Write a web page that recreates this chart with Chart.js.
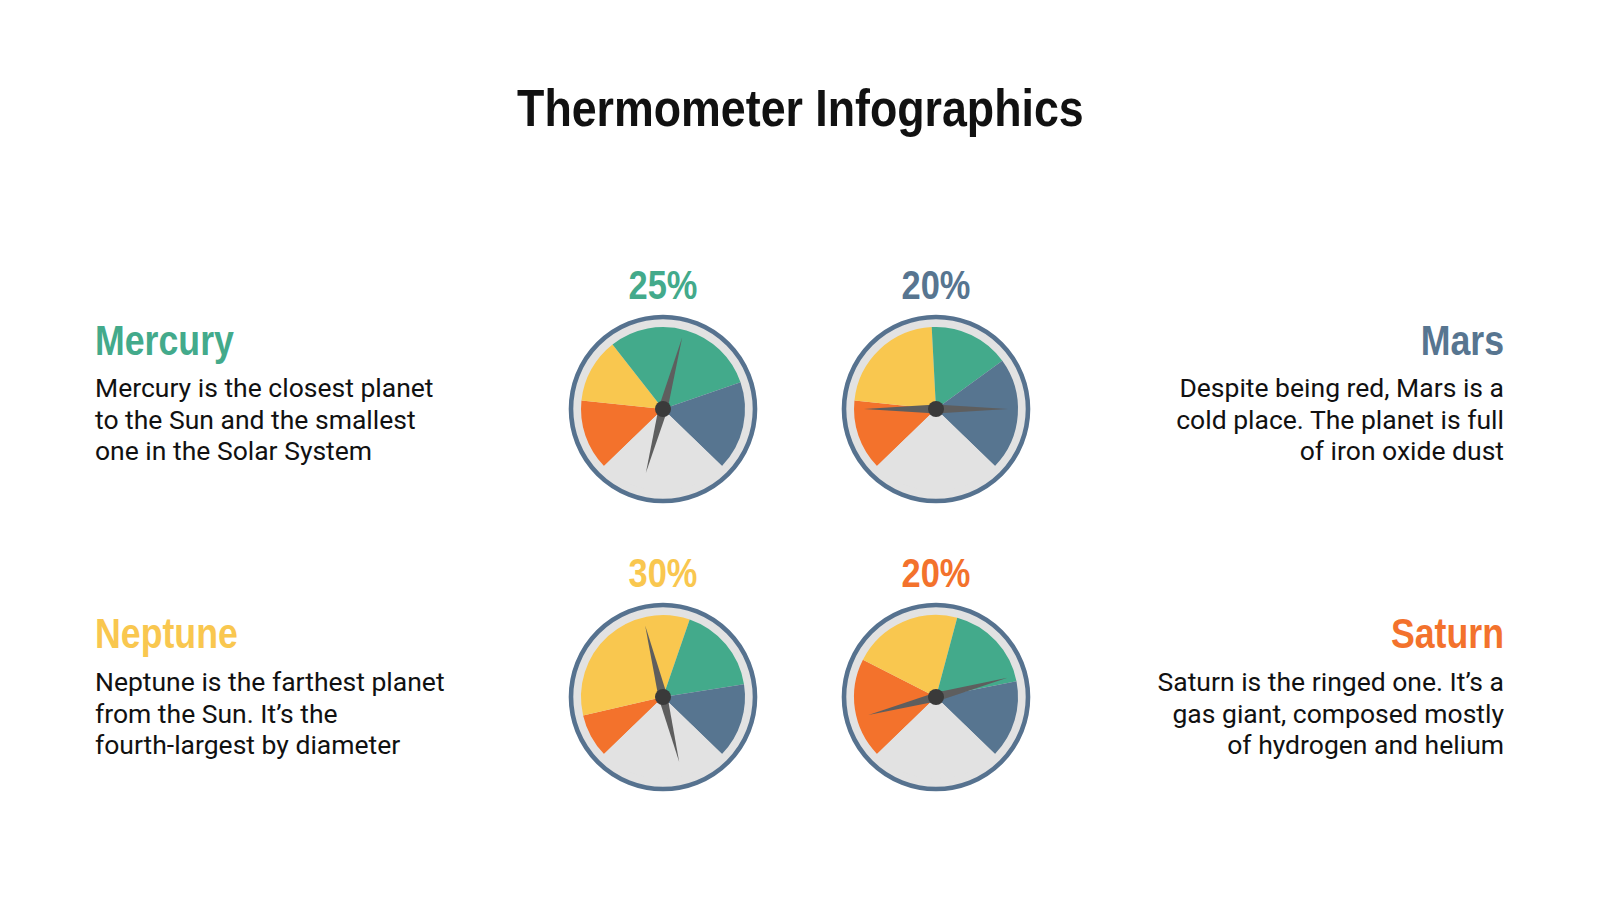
<!DOCTYPE html>
<html><head><meta charset="utf-8">
<script src="https://cdn.jsdelivr.net/npm/chart.js@4"></script>
<style>
body{margin:0;width:1600px;height:900px;background:#fff;position:relative;overflow:hidden;font-family:Roboto,sans-serif}
.title{position:absolute;left:0;width:1600px;text-align:center;top:78px;margin:0}
.title span{display:inline-block;font:bold 52px "Liberation Sans",Arial,sans-serif;color:#111;transform:scaleX(0.86)}
.pct{position:absolute;width:200px;text-align:center}
.pct span{display:inline-block;font:bold 40px "Liberation Sans",sans-serif;transform:scaleX(0.86)}
.name{position:absolute;font:bold 42px "Liberation Sans",sans-serif;transform:scaleX(0.85)}
.desc{position:absolute;font-size:26.5px;line-height:31.6px;color:#111}
canvas{position:absolute}
</style></head><body>
<div class="title"><span>Thermometer Infographics</span></div>
<div id="root"></div>
<script>
const planets=["Mercury","Mars","Neptune","Saturn"];
const percents=["25%","20%","30%","20%"];
const descriptions=[
 "Mercury is the closest planet<br>to the Sun and the smallest<br>one in the Solar System",
 "Despite being red, Mars is a<br>cold place. The planet is full<br>of iron oxide dust",
 "Neptune is the farthest planet<br>from the Sun. It’s the<br>fourth-largest by diameter",
 "Saturn is the ringed one. It’s a<br>gas giant, composed mostly<br>of hydrogen and helium"];
const segmentLabels=["Orange","Yellow","Green","Blue","Base"];
const mercurySegments=[50,46,109,63,92];
const marsSegments=[50,81,57,80,92];
const neptuneSegments=[31,122,62,53,92];
const saturnSegments=[71,78,64,55,92];
const needleAngles=[15,90,346,75];
const needleLengths=[[74,66],[72,72],[74,67],[74,70]];
const colors=["#f3722c","#f9c74f","#43aa8b","#577590","#e2e2e2"];
const accent=["#43aa8b","#577590","#f9c74f","#f3722c"];
const segs=[mercurySegments,marsSegments,neptuneSegments,saturnSegments];
const pos=[[663,409],[936,409],[663,697],[936,697]];
const root=document.getElementById('root');
const textPos=[{x:95,y:317,d:372,al:'left'},{x:1504,y:317,d:372,al:'right'},{x:95,y:610,d:666,al:'left'},{x:1504,y:610,d:666,al:'right'}];
planets.forEach((p,i)=>{
  const tp=textPos[i];
  const n=document.createElement('div');n.className='name';n.textContent=p;n.style.color=accent[i];n.style.top=tp.y+'px';
  const d=document.createElement('div');d.className='desc';d.innerHTML=descriptions[i];d.style.top=tp.d+'px';d.style.textAlign=tp.al;
  if(tp.al==='left'){n.style.left=tp.x+'px';n.style.transformOrigin='left center';d.style.left=tp.x+'px';}
  else{n.style.right=(1600-tp.x)+'px';n.style.transformOrigin='right center';d.style.right=(1600-tp.x)+'px';}
  root.appendChild(n);root.appendChild(d);
  const pc=document.createElement('div');pc.className='pct';pc.innerHTML='<span>'+percents[i]+'</span>';pc.style.color=accent[i];
  pc.style.left=(pos[i][0]-100)+'px';pc.style.top=(pos[i][1]-146)+'px';root.appendChild(pc);
});
const gaugePlugin={id:'gauge',
 beforeDatasetsDraw(c){const m=c.getDatasetMeta(0).data[0];const ctx=c.ctx;ctx.save();
  ctx.beginPath();ctx.arc(m.x,m.y,92,0,Math.PI*2);ctx.fillStyle='#e2e2e2';ctx.fill();
  ctx.lineWidth=4.6;ctx.strokeStyle='#56728f';ctx.stroke();ctx.restore();},
 afterDatasetsDraw(c){const i=c.options.plugins.gauge.idx;const m=c.getDatasetMeta(0).data[0];const ctx=c.ctx;
  const a=(needleAngles[i]-90)*Math.PI/180;const [l1,l2]=needleLengths[i];
  const ux=Math.cos(a),uy=Math.sin(a),px=-uy,py=ux,w=4.5;
  ctx.save();ctx.fillStyle='#5e5e5e';ctx.beginPath();
  ctx.moveTo(m.x+ux*l1,m.y+uy*l1);ctx.lineTo(m.x+px*w,m.y+py*w);ctx.lineTo(m.x-ux*l2,m.y-uy*l2);ctx.lineTo(m.x-px*w,m.y-py*w);ctx.closePath();ctx.fill();
  ctx.beginPath();ctx.arc(m.x,m.y,8,0,Math.PI*2);ctx.fillStyle='#3a3a3a';ctx.fill();ctx.restore();}};
segs.forEach((s,i)=>{
  const cv=document.createElement('canvas');cv.width=200;cv.height=200;cv.style.width='200px';cv.style.height='200px';
  cv.style.left=(pos[i][0]-100)+'px';cv.style.top=(pos[i][1]-100)+'px';root.appendChild(cv);
  new Chart(cv,{type:'pie',data:{labels:segmentLabels,datasets:[{data:s,backgroundColor:colors,borderWidth:0}]},
   options:{responsive:false,animation:false,rotation:226,layout:{padding:18},
    plugins:{legend:{display:false},tooltip:{enabled:false},gauge:{idx:i}}},plugins:[gaugePlugin]});
});
</script></body></html>
